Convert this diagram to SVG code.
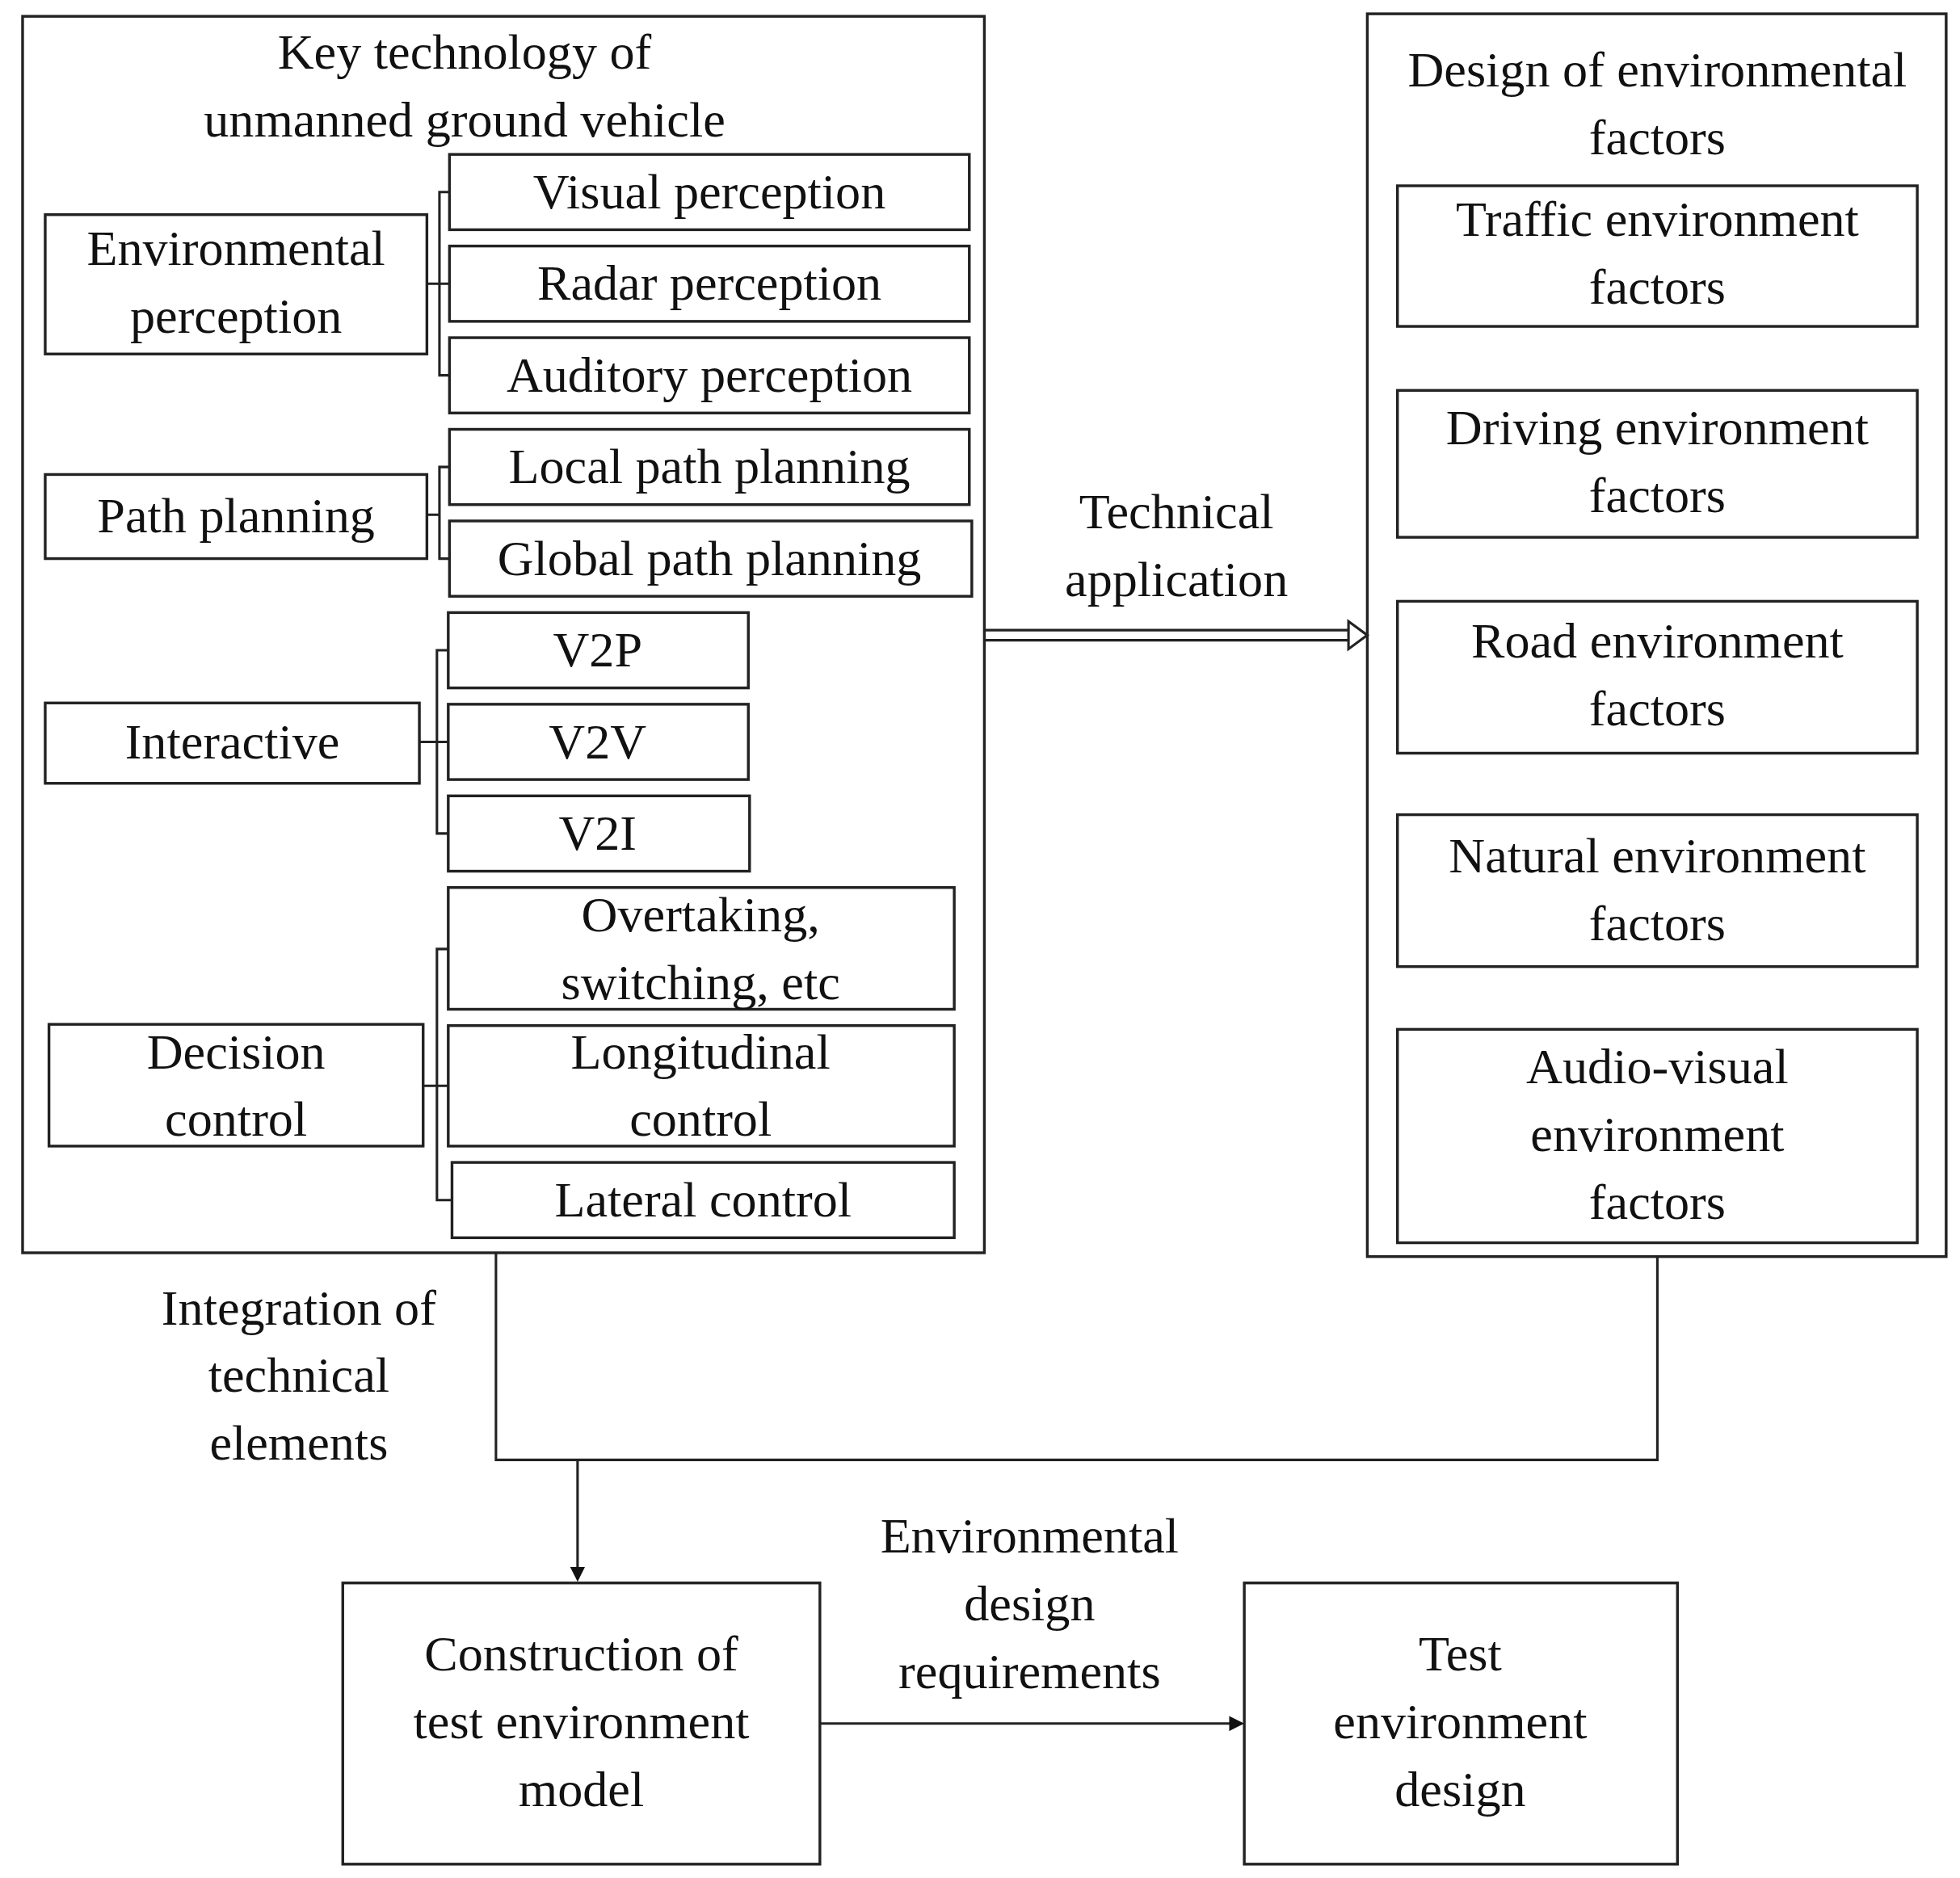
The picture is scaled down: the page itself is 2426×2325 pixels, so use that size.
<svg xmlns="http://www.w3.org/2000/svg" width="2426" height="2325" viewBox="0 0 2426 2325">
<style>
rect{fill:#fff;stroke:#222;stroke-width:2.2}
text{font-family:"Liberation Serif","Times New Roman",serif;font-size:40px;fill:#111;text-anchor:middle}
.l{fill:none;stroke:#222;stroke-width:2}
</style>
<defs>
<marker id="a" markerWidth="12" markerHeight="12" refX="10" refY="6" orient="auto" markerUnits="userSpaceOnUse"><path d="M0,0L12,6L0,12z" fill="#111"/></marker>
</defs>
<rect x="0" y="0" width="2426" height="2325" style="stroke:none"/>
<g transform="scale(1.5541)">
<g id="left"><rect x="18" y="13" width="766" height="985"/>
<text x="370" y="55">Key technology of</text><text x="370" y="109">unmanned ground vehicle</text></g>
<g id="env"><rect x="36" y="171" width="304" height="111"/><text x="188" y="211">Environmental</text><text x="188" y="265">perception</text></g>
<g id="vis"><rect x="358" y="123" width="414" height="60"/><text x="565" y="166">Visual perception</text></g>
<g id="rad"><rect x="358" y="196" width="414" height="60"/><text x="565" y="239">Radar perception</text></g>
<g id="aud"><rect x="358" y="269" width="414" height="60"/><text x="565" y="312">Auditory perception</text></g>
<g id="path"><rect x="36" y="378" width="304" height="67"/><text x="188" y="424">Path planning</text></g>
<g id="local"><rect x="358" y="342" width="414" height="60"/><text x="565" y="385">Local path planning</text></g>
<g id="global"><rect x="358" y="415" width="416" height="60"/><text x="565" y="458">Global path planning</text></g>
<g id="inter"><rect x="36" y="560" width="298" height="64"/><text x="185" y="604">Interactive</text></g>
<g id="v2p"><rect x="357" y="488" width="239" height="60"/><text x="476" y="531">V2P</text></g>
<g id="v2v"><rect x="357" y="561" width="239" height="60"/><text x="476" y="604">V2V</text></g>
<g id="v2i"><rect x="357" y="634" width="240" height="60"/><text x="476" y="677">V2I</text></g>
<g id="dec"><rect x="39" y="816" width="298" height="97"/><text x="188" y="851">Decision</text><text x="188" y="905">control</text></g>
<g id="over"><rect x="357" y="707" width="403" height="97"/><text x="558" y="742">Overtaking,</text><text x="558" y="796">switching, etc</text></g>
<g id="lon"><rect x="357" y="817" width="403" height="96"/><text x="558" y="851">Longitudinal</text><text x="558" y="905">control</text></g>
<g id="lat"><rect x="360" y="926" width="400" height="60"/><text x="560" y="969">Lateral control</text></g>
<g id="right"><rect x="1089" y="11" width="461" height="990"/><text x="1320" y="69">Design of environmental</text><text x="1320" y="123">factors</text></g>
<g id="traffic"><rect x="1113" y="148" width="414" height="112"/><text x="1320" y="188">Traffic environment</text><text x="1320" y="242">factors</text></g>
<g id="driving"><rect x="1113" y="311" width="414" height="117"/><text x="1320" y="354">Driving environment</text><text x="1320" y="408">factors</text></g>
<g id="road"><rect x="1113" y="479" width="414" height="121"/><text x="1320" y="524">Road environment</text><text x="1320" y="578">factors</text></g>
<g id="natural"><rect x="1113" y="649" width="414" height="121"/><text x="1320" y="695">Natural environment</text><text x="1320" y="749">factors</text></g>
<g id="audio"><rect x="1113" y="820" width="414" height="170"/><text x="1320" y="863">Audio-visual</text><text x="1320" y="917">environment</text><text x="1320" y="971">factors</text></g>
<g id="constr"><rect x="273" y="1261" width="380" height="224"/><text x="463" y="1331">Construction of</text><text x="463" y="1385">test environment</text><text x="463" y="1439">model</text></g>
<g id="test"><rect x="991" y="1261" width="345" height="224"/><text x="1163" y="1331">Test</text><text x="1163" y="1385">environment</text><text x="1163" y="1439">design</text></g>
<g id="connectors">
<path class="l" d="M340,226H350M358,153H350V299H358M350,226H358"/>
<path class="l" d="M340,410H350M358,372H350V445H358"/>
<path class="l" d="M334,591H348M357,518H348V664H357M348,591H357"/>
<path class="l" d="M337,865H348M357,756H348V956H360M348,865H357"/>
<path class="l" d="M784,502H1076M784,510H1076"/>
<path d="M1074,495L1089,506L1074,517z" fill="#fff" stroke="#222" stroke-width="2"/>
<path class="l" d="M395,998V1163H1320V1001"/>
<path class="l" d="M460,1163V1258" marker-end="url(#a)"/>
<path class="l" d="M653,1373H989" marker-end="url(#a)"/>
<text x="937" y="421">Technical</text><text x="937" y="475">application</text>
<text x="238" y="1055">Integration of</text><text x="238" y="1109">technical</text><text x="238" y="1163">elements</text>
<text x="820" y="1237">Environmental</text><text x="820" y="1291">design</text><text x="820" y="1345">requirements</text>
</g>
</g>
</svg>
